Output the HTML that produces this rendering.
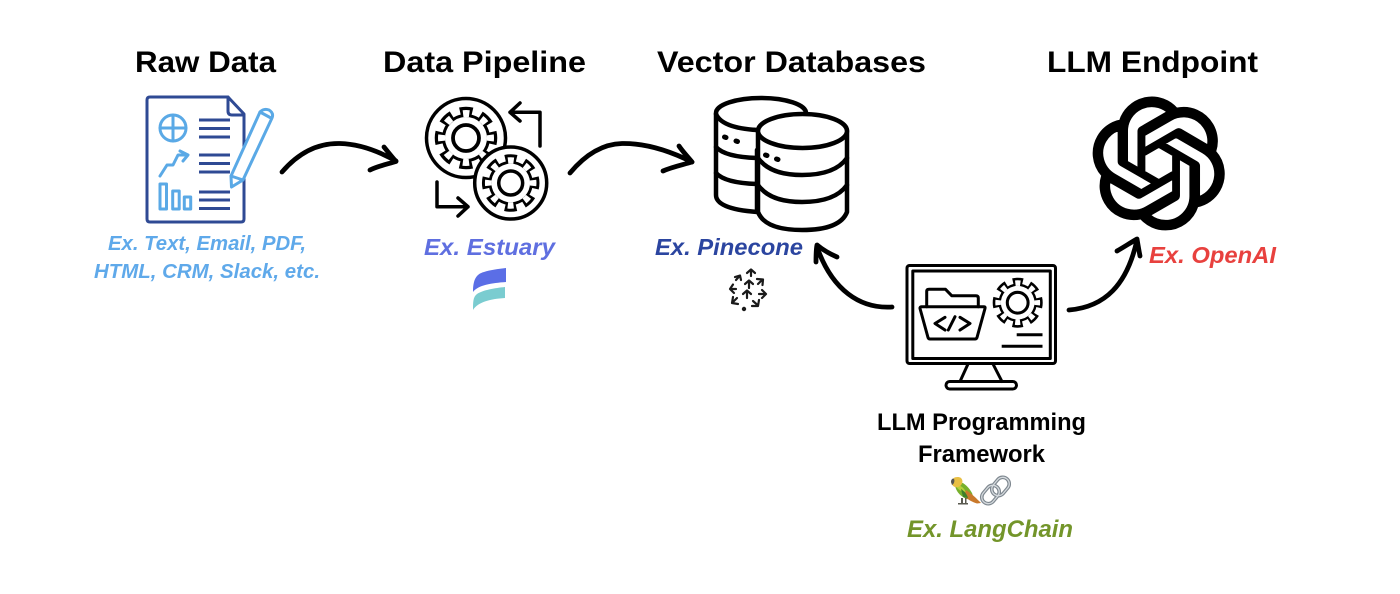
<!DOCTYPE html>
<html>
<head>
<meta charset="utf-8">
<style>
html,body{margin:0;padding:0;background:#fff;width:1400px;height:594px;overflow:hidden}
svg{display:block}
.t{font-family:"Liberation Sans",sans-serif;font-weight:700;font-size:30px;fill:#000}
.f{font-family:"Liberation Sans",sans-serif;font-weight:700;font-size:24px;fill:#000}
.e{font-family:"Liberation Sans",sans-serif;font-weight:700;font-style:italic}
</style>
</head>
<body>
<svg width="1400" height="594" viewBox="0 0 1400 594" xmlns="http://www.w3.org/2000/svg">
<defs>
<g id="gear">
<g transform="rotate(-13.2)">
<circle r="26.500" fill="none" stroke="#000" stroke-width="9.500" stroke-dasharray="12.200 8.611"/>
<circle r="24" fill="#000"/>
<circle r="24.500" fill="none" stroke="#fff" stroke-width="7" stroke-dasharray="6.200 13.042" stroke-dashoffset="-2.550"/>
<circle r="21" fill="#fff"/>
</g>
<circle r="13" fill="#fff" stroke="#000" stroke-width="3.800"/>
</g>
</defs>
<rect width="1400" height="594" fill="#fff"/>

<!-- titles -->
<text class="t" x="135" y="72" textLength="141" lengthAdjust="spacingAndGlyphs">Raw Data</text>
<text class="t" x="383" y="72" textLength="203" lengthAdjust="spacingAndGlyphs">Data Pipeline</text>
<text class="t" x="657" y="72" textLength="269" lengthAdjust="spacingAndGlyphs">Vector Databases</text>
<text class="t" x="1047" y="72" textLength="211" lengthAdjust="spacingAndGlyphs">LLM Endpoint</text>

<!-- document icon -->
<g fill="none" stroke="#2f4a94" stroke-width="3" stroke-linejoin="round" stroke-linecap="round">
<path d="M147 100Q147 97 150 97L228 97L244 114L244 219Q244 222 241 222L150 222Q147 222 147 219Z"/>
<path d="M228 97V111Q228 115 232 115H244"/>
<path stroke-linecap="butt" d="M199 120H230M199 128.500H230M199 137H230M199 155H230M199 163.500H230M199 172H230M199 192H230M199 200H230M199 208.500H230"/>
</g>
<g fill="none" stroke="#5aa9e6" stroke-width="3" stroke-linejoin="round" stroke-linecap="round">
<circle cx="173" cy="128" r="13"/>
<path d="M173 115V141M160 128H186"/>
<path d="M160 176L167 165L173 165L178 155L187 155"/>
<path d="M180 151L188 155L183 161"/>
<rect x="160" y="184" width="6.500" height="25"/>
<rect x="172.700" y="191" width="6.500" height="18"/>
<rect x="184.300" y="197" width="6.400" height="12"/>
<path fill="#fff" d="M231.500 187L231 176L260 112Q264 108 269 110Q274 113 272 118L243 180Z"/>
<path d="M231 176L243 180M260 112L271 118"/>
</g>

<!-- arrows -->
<g fill="none" stroke="#000" stroke-width="4.800" stroke-linecap="round" stroke-linejoin="round">
<path d="M282 172C300 151 320 143 340 143.500C360 144 380 152 396 161"/>
<path d="M384 147C388 152 392 157 396 161.500C388 164 378 166 370 170"/>
<path d="M570 173C585 155 602 144 622 143.500C648 143 672 152 692 162"/>
<path d="M679 146C683 152 688 157 692 162C682 165 672 167 663 171"/>
<path d="M892 307C860 309 832 290 817 247"/>
<path d="M816 262C816 256 816 250 817 245C823 250 830 254 837 257"/>
<path d="M1069 310C1105 307 1127 285 1137 240"/>
<path d="M1117 251C1124 247 1130 243 1137 239C1138 245 1139 251 1140 256"/>
</g>

<!-- pipeline -->
<g fill="none" stroke="#000" stroke-width="3.500" stroke-linecap="round" stroke-linejoin="round">
<circle cx="466" cy="138" r="39.500" fill="#fff"/>
<path d="M540 146V112.300H510M520 103L510 112.300L520 121"/>
<path d="M437 182V206.700H468M458 198L468 206.700L458 216"/>
</g>
<use href="#gear" transform="translate(466 138)"/>
<circle cx="510.700" cy="183" r="36" fill="#fff" stroke="#000" stroke-width="3.500"/>
<use href="#gear" transform="translate(510.700 183) scale(.92)"/>

<!-- database -->
<g fill="#fff" stroke="#000" stroke-width="4.500" stroke-linecap="round" stroke-linejoin="round">
<path d="M716 113A45 15 0 0 1 806 113V150H757V212Q716 209 716 195Z"/>
<path fill="none" d="M716 114Q722 128 757 130M716 147Q725 157 757 158M716 173Q725 183 757 184"/>
<path d="M758 131A44.500 16 0 0 1 847 131V212Q840 230 802 230Q765 230 758 212Z"/>
<ellipse cx="802.500" cy="131" rx="44.500" ry="17"/>
<path fill="none" d="M758 158Q770 175 802 175Q835 175 847 158M758 185Q770 202 802 202Q835 202 847 185"/>
<path stroke-width="5" d="M724.500 137L726 137.500M736 141L737.500 141.500M765.500 155L767 155.500M776.500 159L778 159.500"/>
</g>

<!-- pinecone glyph -->
<g fill="none" stroke="#1a1a1a" stroke-width="2.200" stroke-linecap="round" stroke-linejoin="round">
<path d="M747 273L751 269.500L755 273M751 270V276"/>
<path d="M735 277L740 275.500L741 280M739.500 276L736 280"/>
<path d="M757 279L763 279.500L762.500 285M762 280L758 284"/>
<path d="M745 284L749 280.500L753 284M749 281V288"/>
<path d="M733 284.500L730 289L734 293M731 289H736"/>
<path d="M743 294L747 290.500L751 294M747 291V298"/>
<path d="M762 290L766 294L762 298M765 294H759"/>
<path d="M733 297L732 303L738 304M733 302L737 298"/>
<path d="M752 306L758 306L759 300M757.500 305L753 301"/>
</g>
<circle cx="744" cy="309" r="2.200" fill="#1a1a1a"/>

<!-- openai -->
<path transform="translate(1092.700 97.500) scale(5.500)" fill="#000" stroke="#000" stroke-width=".34" d="M22.2819 9.8211a5.9847 5.9847 0 0 0-.5157-4.9108 6.0462 6.0462 0 0 0-6.5098-2.9A6.0651 6.0651 0 0 0 4.9807 4.1818a5.9847 5.9847 0 0 0-3.9977 2.9 6.0462 6.0462 0 0 0 .7427 7.0966 5.98 5.98 0 0 0 .511 4.9107 6.051 6.051 0 0 0 6.5146 2.9001A5.9847 5.9847 0 0 0 13.2599 24a6.0557 6.0557 0 0 0 5.7718-4.2058 5.9894 5.9894 0 0 0 3.9977-2.9001 6.0557 6.0557 0 0 0-.7475-7.0729zm-9.022 12.6081a4.4755 4.4755 0 0 1-2.8764-1.0408l.1419-.0804 4.7783-2.7582a.7948.7948 0 0 0 .3927-.6813v-6.7369l2.02 1.1686a.071.071 0 0 1 .038.052v5.5826a4.504 4.504 0 0 1-4.4945 4.4944zm-9.6607-4.1254a4.4708 4.4708 0 0 1-.5346-3.0137l.142.0852 4.783 2.7582a.7712.7712 0 0 0 .7806 0l5.8428-3.3685v2.3324a.0804.0804 0 0 1-.0332.0615L9.74 19.9502a4.4992 4.4992 0 0 1-6.1408-1.6464zM2.3408 7.8956a4.485 4.485 0 0 1 2.3655-1.9728V11.6a.7664.7664 0 0 0 .3879.6765l5.8144 3.3543-2.0201 1.1685a.0757.0757 0 0 1-.071 0l-4.8303-2.7865A4.504 4.504 0 0 1 2.3408 7.872zm16.5963 3.8558L13.1038 8.364 15.1192 7.2a.0757.0757 0 0 1 .071 0l4.8303 2.7913a4.4944 4.4944 0 0 1-.6765 8.1042v-5.6772a.79.79 0 0 0-.407-.667zm2.0107-3.0231l-.142-.0852-4.7735-2.7818a.7759.7759 0 0 0-.7854 0L9.409 9.2297V6.8974a.0662.0662 0 0 1 .0284-.0615l4.8303-2.7866a4.4992 4.4992 0 0 1 6.6802 4.66zM8.3065 12.863l-2.02-1.1638a.0804.0804 0 0 1-.038-.0567V6.0742a4.4992 4.4992 0 0 1 7.3757-3.4537l-.142.0805L8.704 5.459a.7948.7948 0 0 0-.3927.6813zm1.0976-2.3654l2.602-1.4998 2.6069 1.4998v2.9994l-2.5974 1.4997-2.6067-1.4997Z"/>

<!-- monitor -->
<g fill="none" stroke="#000" stroke-width="3" stroke-linejoin="round" stroke-linecap="round">
<rect x="907" y="265.500" width="148.500" height="98" rx="2.500"/>
<rect x="912.800" y="271" width="137.500" height="87.500"/>
<path d="M968 364L960 381.500M993 364L1002 381.500"/>
<rect x="946" y="381.500" width="70.500" height="7.500" rx="3.700"/>
<path d="M926.700 306.700V291.500Q926.700 289.300 929 289.300H945.500L951.700 295.700H976Q978.300 295.700 978.300 298V306.700"/>
<path d="M921.500 306.700H984Q985.500 306.700 985 308.500L977 337.500Q976.500 339 975 339H930Q928.500 339 928 337.500L920 308.500Q919.800 306.700 921.500 306.700Z"/>
<path d="M945 317.300L935 323.500L945 330M955 316.700L948.300 330M960 317.300L970 323.500L960 330"/>
<path stroke-linecap="butt" d="M1016.700 334.700H1042.500M1001.700 346.300H1042.500"/>
</g>
<use href="#gear" transform="translate(1017.700 302.700) scale(.8)"/>

<!-- labels -->
<text class="e" x="108" y="250" font-size="20" fill="#5fa9ea" textLength="198" lengthAdjust="spacingAndGlyphs">Ex. Text, Email, PDF,</text>
<text class="e" x="94" y="278" font-size="20" fill="#5fa9ea" textLength="226" lengthAdjust="spacingAndGlyphs">HTML, CRM, Slack, etc.</text>
<text class="e" x="424" y="255" font-size="23" fill="#5f6fe0" textLength="131" lengthAdjust="spacingAndGlyphs">Ex. Estuary</text>
<text class="e" x="655" y="255" font-size="23" fill="#2b45a0" textLength="148" lengthAdjust="spacingAndGlyphs">Ex. Pinecone</text>
<text class="e" x="1149" y="263" font-size="23" fill="#e8413e" textLength="127" lengthAdjust="spacingAndGlyphs">Ex. OpenAI</text>
<text class="f" x="877" y="430" textLength="209" lengthAdjust="spacingAndGlyphs">LLM Programming</text>
<text class="f" x="918" y="462" textLength="127" lengthAdjust="spacingAndGlyphs">Framework</text>
<text class="e" x="907" y="537" font-size="24" fill="#73952a" textLength="166" lengthAdjust="spacingAndGlyphs">Ex. LangChain</text>

<!-- estuary logo -->
<path fill="#5b6ee6" d="M473 292C473 280 476 274 484 272C490 270 498 269 506 268L506 282C492 283 478 285 473 292Z"/>
<path fill="#7accd0" d="M473 310C473 302 473 297 477 294C483 290 495 288 505 287L505 298C490 299 478 302 473 310Z"/>

<!-- parrot -->
<path fill="#77b02c" d="M955 484C961 479 968 486 972 493C974 497 971 500 967 499C961 497 955 491 955 484Z"/>
<path fill="#b6cf3a" d="M956 486C960 484 964 488 966 492C962 492 958 490 956 486Z"/>
<path fill="#e8bf45" d="M951 482C952 477 958 476 961 478C964 481 962 486 958 487C955 488 952 486 951 482Z"/>
<path fill="#555" d="M951 482C951 479 953 478 954 479C955 481 954 484 952 485Z"/>
<path fill="#c9792b" d="M966 490C971 493 977 499 981 503L977 503.500C972 502 967 499 964 496Z"/>
<path fill="#3f7f2a" d="M961 489C964 491 967 494 968 498L963 497Z"/>
<path fill="#5a5a50" d="M958 503H968V504.500H958ZM961 498H963V503H961ZM965 498H966.500V503H965Z"/>
<!-- chain -->
<g fill="none" stroke="#7f8890" stroke-width="3.600">
<rect x="994" y="476.500" width="13" height="20" rx="6.500" transform="rotate(40 1000.500 486.500)"/>
<rect x="984" y="484.500" width="13" height="20" rx="6.500" transform="rotate(40 990.500 494.500)"/>
</g>
<g fill="none" stroke="#d5dade" stroke-width="1.300">
<rect x="994" y="476.500" width="13" height="20" rx="6.500" transform="rotate(40 1000.500 486.500)"/>
<rect x="984" y="484.500" width="13" height="20" rx="6.500" transform="rotate(40 990.500 494.500)"/>
</g>
</svg>
</body>
</html>
